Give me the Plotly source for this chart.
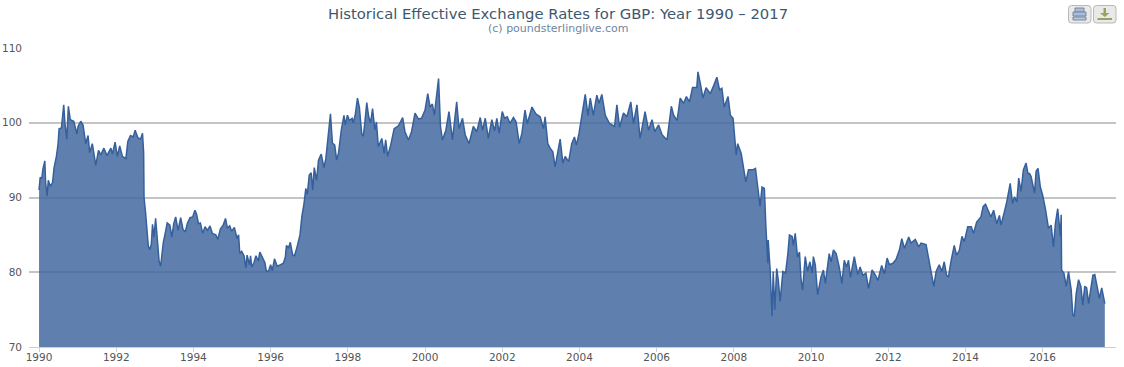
import plotly.graph_objects as go

years = [
1990.00,1990.03,1990.07,1990.10,1990.15,1990.17,1990.21,1990.24,1990.29,1990.35,1990.39,1990.45,1990.49,1990.52,1990.58,1990.64,1990.67,1990.72,1990.76,1990.81,1990.90,1990.98,
1991.01,1991.08,1991.14,1991.21,1991.27,1991.31,1991.38,1991.47,1991.54,1991.60,1991.68,1991.76,1991.86,1991.90,1991.97,
1992.03,1992.09,1992.16,1992.25,1992.30,1992.37,1992.44,1992.49,1992.56,1992.63,1992.68,1992.71,1992.72,1992.76,1992.79,1992.83,1992.87,1992.91,1992.94,1992.98,
1993.02,1993.06,1993.11,1993.15,1993.18,1993.22,1993.28,1993.32,1993.39,1993.44,1993.49,1993.54,1993.60,1993.67,1993.73,1993.79,1993.84,1993.91,1993.98,
1994.04,1994.08,1994.13,1994.18,1994.24,1994.30,1994.36,1994.43,1994.49,1994.58,1994.63,1994.70,1994.77,1994.83,1994.88,1994.94,1994.99,
1995.06,1995.13,1995.17,1995.20,1995.25,1995.31,1995.36,1995.39,1995.45,1995.48,1995.51,1995.57,1995.62,1995.68,1995.72,1995.79,1995.85,1995.89,1995.95,
1996.00,1996.04,1996.10,1996.17,1996.26,1996.33,1996.38,1996.41,1996.46,1996.51,1996.57,1996.62,1996.69,1996.76,1996.81,1996.86,1996.91,1996.95,
1997.00,1997.05,1997.09,1997.13,1997.19,1997.24,1997.31,1997.38,1997.43,1997.48,1997.55,1997.60,1997.66,1997.71,1997.76,1997.83,1997.90,1997.93,1997.99,
1998.04,1998.11,1998.14,1998.19,1998.25,1998.30,1998.36,1998.40,1998.44,1998.49,1998.54,1998.59,1998.64,1998.70,1998.74,1998.79,1998.88,1998.94,1998.98,
1999.03,1999.11,1999.20,1999.31,1999.42,1999.48,1999.57,1999.65,1999.74,1999.83,1999.91,
2000.00,2000.07,2000.13,2000.19,2000.24,2000.29,2000.35,2000.40,2000.45,2000.54,2000.62,2000.71,2000.82,2000.88,2000.97,
2001.04,2001.14,2001.25,2001.34,2001.43,2001.49,2001.56,2001.64,2001.73,2001.80,2001.86,2001.92,
2002.00,2002.06,2002.13,2002.20,2002.29,2002.36,2002.44,2002.51,2002.59,2002.65,2002.77,2002.87,2002.98,
2003.07,2003.11,2003.18,2003.24,2003.31,2003.37,2003.41,2003.50,2003.57,2003.63,2003.72,2003.80,2003.87,2003.92,2003.99,
2004.06,2004.15,2004.22,2004.28,2004.36,2004.45,2004.51,2004.58,2004.67,2004.78,2004.91,2004.97,
2005.04,2005.14,2005.23,2005.33,2005.40,2005.49,2005.57,2005.70,2005.79,2005.88,2005.95,
2006.05,2006.14,2006.27,2006.38,2006.44,2006.53,2006.61,2006.70,2006.77,2006.85,2006.93,
2007.04,2007.07,2007.13,2007.20,2007.28,2007.39,2007.48,2007.56,2007.63,2007.69,2007.75,2007.85,2007.91,2007.98,
2008.06,2008.10,2008.19,2008.25,2008.31,2008.38,2008.49,2008.56,2008.62,2008.68,2008.73,2008.79,2008.83,2008.88,2008.89,2008.94,2008.99,
2009.02,2009.06,2009.11,2009.15,2009.20,2009.27,2009.34,2009.40,2009.44,2009.51,2009.54,2009.59,2009.65,2009.70,2009.74,2009.78,2009.85,2009.91,2009.97,
2010.03,2010.06,2010.11,2010.17,2010.26,2010.32,2010.37,2010.43,2010.47,2010.52,2010.58,2010.65,2010.73,2010.80,2010.86,2010.92,2010.97,
2011.02,2011.12,2011.21,2011.27,2011.34,2011.42,2011.49,2011.58,2011.67,2011.73,2011.83,2011.90,2011.97,
2012.03,2012.12,2012.20,2012.29,2012.35,2012.42,2012.53,2012.59,2012.70,2012.79,2012.85,2012.98,
2013.07,2013.13,2013.18,2013.24,2013.32,2013.39,2013.45,2013.51,2013.56,2013.63,2013.71,2013.77,2013.84,2013.91,2013.97,
2014.06,2014.15,2014.21,2014.29,2014.40,2014.46,2014.52,2014.59,2014.66,2014.73,2014.81,2014.88,2014.92,
2015.01,2015.07,2015.16,2015.22,2015.27,2015.33,2015.38,2015.44,2015.50,2015.57,2015.62,2015.66,2015.70,2015.79,2015.83,2015.88,2015.94,
2016.00,2016.07,2016.15,2016.22,2016.28,2016.33,2016.39,2016.46,2016.48,2016.49,2016.55,2016.61,2016.67,2016.74,2016.78,2016.82,2016.87,2016.93,2016.99,
2017.04,2017.09,2017.14,2017.19,2017.30,2017.35,2017.41,2017.47,2017.53,2017.61]

rates = [
91,92.7,92.5,93.8,94.9,92,90.2,92.3,91.5,92,94,95.5,97,99.2,99.3,102.4,100,97.8,102.2,100.4,100.2,98.5,
99.5,100.2,99.7,97.2,98.3,96,97.2,94.3,96.3,95.7,96.6,95.6,96.6,95.8,97.4,
95.5,96.9,95.5,95.2,97.5,98.3,98.1,99,98,97.8,98.6,96,90,88,86,83.5,83,83.8,86.4,84.7,
87.2,84,81.5,80.8,82,84,85.5,86.6,86.3,84.7,86.5,87.4,85.6,87.3,85.7,85.4,86.5,87.3,87.4,
88.3,87.8,86.5,86.6,85.2,86.1,85.6,86.2,85.2,85,84.4,85.8,86.3,87.2,85.9,86.2,85.5,
86,84.5,85,82.5,82.8,82.2,80.6,82.3,81,82.2,80.7,81.3,82.2,81.5,82.7,82,81.3,80.1,80.2,
81,80.2,81.8,80.8,81,81.2,82,83.6,83.2,84,82.3,82.2,83.5,85,87.5,89,91.2,90.4,
93,93.3,91,94,92.3,95,95.8,94,95.2,97.5,101.2,97.3,97,95,96,99,101,99.7,101,
100.3,100.6,100,101,103.3,102,98.5,98.2,100,102.7,100.8,100,101.9,99,100.1,96.8,97.9,95.9,97.7,
95.5,97,99.2,99.6,100.7,98.8,97.7,98.8,101.3,100.5,100.6,
101.7,103.9,102.1,102.5,101,103.5,105.9,99.5,97.7,99,101.5,97.7,102.8,99.2,100.6,
98.4,97.2,99.5,98.8,100.7,99,100.6,97.9,100.4,98.9,100.6,98.6,
101.5,100.6,100.8,99.9,100.7,100.1,97.2,98.6,101.7,99.9,102.1,101.2,100.8,
99.2,100.8,97.2,96.6,96.1,94.1,95.4,97.8,94.6,95.5,94.8,97.2,98.1,97,98.6,
100.8,103.8,101,103.3,101,103.7,102.6,103.8,101,99.9,99.5,102.4,
99.4,101.3,100.8,102.8,99.9,102.4,97.9,101.5,99,100.4,98.8,
99.7,98.4,97.7,102.2,101,100.3,103.3,102.6,103.5,102.8,104.7,
104.7,106.8,105.3,103.3,104.7,103.9,105,106.1,104.4,104.6,102.1,103.5,101,100.6,
95.7,97.2,95.9,94.1,92.1,93.7,93.7,93.9,91.2,88.8,91.4,91.2,86.1,81.2,84.3,80.3,74.1,
80.1,75,80.5,79,76.1,80.1,79.9,82.5,85,84.8,83.6,85.2,82,82.7,79,77.6,82.1,80.1,81.4,
79.9,82.1,81,77,79.4,80.3,78.5,81,82.5,81.4,83,82.5,80.7,78.5,81.6,80.7,81.6,
79.3,82.1,79.7,80.7,79.6,79.9,77.8,80.3,79.6,78.9,80.9,79.8,81.9,
81,81.2,81.7,83,84.5,83.2,84.7,83.9,84.4,83.4,83.9,83.7,
81.2,79.4,78.1,80.1,81,80.1,81.4,79.6,79.4,81.6,83.6,82.3,82.9,84.8,84.1,
86.1,86.1,85.2,86.7,87.4,88.8,89.1,88.3,87.4,88.3,86.5,87.6,86.3,
88.1,89.4,91.9,89.2,90.1,89.4,92.6,90.8,93.7,94.6,93.2,93.2,92.8,90.6,93.5,93.9,91.4,
90.3,88.5,85.9,86.3,83.4,86.5,88.5,84.8,87.7,80.3,79.9,78.1,80.1,77.6,74.3,74.1,77.2,79,78.1,
75.6,78.1,77.9,75.8,79.6,79.7,78.1,76.5,77.9,75.8]

y_ticks = [70, 80, 90, 100, 110]
x_ticks = list(range(1990, 2018, 2))

TITLE = "Historical Effective Exchange Rates for GBP: Year 1990 – 2017"
SUBTITLE = "(c) poundsterlinglive.com"
FONT = "DejaVu Sans"
W, H, L, R, T, B = 1124, 367, 29, 8, 48, 20


def px(x):
    return (x - L) / (W - L - R)


def py(y):
    return 1 - (y - T) / (H - T - B)


def rect(x0, y0, x1, y1, fill, line="rgba(0,0,0,0)", lw=0):
    return dict(type="rect", xref="paper", yref="paper", x0=px(x0), x1=px(x1), y0=py(y0), y1=py(y1),
                fillcolor=fill, line=dict(color=line, width=lw), layer="above")


def rounded(x0, y0, x1, y1, r=3):
    X0, X1, Y0, Y1 = px(x0), px(x1), py(y0), py(y1)
    dx, dy = r / (W - L - R), r / (H - T - B)
    path = (f"M {X0+dx} {Y0} L {X1-dx} {Y0} Q {X1} {Y0} {X1} {Y0-dy} L {X1} {Y1+dy} Q {X1} {Y1} {X1-dx} {Y1} "
            f"L {X0+dx} {Y1} Q {X0} {Y1} {X0} {Y1+dy} L {X0} {Y0-dy} Q {X0} {Y0} {X0+dx} {Y0} Z")
    return dict(type="path", xref="paper", yref="paper", path=path, fillcolor="#e9e9e9",
                line=dict(color="#b8b8b8", width=1), layer="above")


def triangle(x0, x1, xm, y0, y1, fill):
    path = f"M {px(x0)} {py(y0)} L {px(x1)} {py(y0)} L {px(xm)} {py(y1)} Z"
    return dict(type="path", xref="paper", yref="paper", path=path, fillcolor=fill,
                line=dict(color=fill, width=0), layer="above")


BLUE, GREEN = "#a9bedc", "#94a562"
shapes = [
    rounded(1068.5, 5.5, 1091, 23),
    rect(1075, 8, 1084, 12, BLUE, "#76869c", 1),
    rect(1073, 12, 1086, 16, BLUE, "#76869c", 1),
    rect(1073, 17, 1086, 20, "#b5c8e2", "#76869c", 1),
    rounded(1093.5, 5.5, 1116, 23),
    rect(1103.5, 8, 1106, 13, GREEN),
    triangle(1100, 1109.5, 1104.8, 13, 17, GREEN),
    rect(1097.5, 18, 1112, 20, GREEN),
]

fig = go.Figure(go.Scatter(
    x=years, y=rates, mode="lines",
    line=dict(color="#35609c", width=1.5),
    fill="tozeroy", fillcolor="rgba(67,106,160,0.85)",
    hoverinfo="x+y",
))

fig.update_layout(
    width=W, height=H,
    autosize=False,
    margin=dict(l=L, r=R, t=T, b=B, autoexpand=False),
    paper_bgcolor="white", plot_bgcolor="white",
    showlegend=False,
    font=dict(family=FONT, size=11, color="#555555"),
    xaxis=dict(range=[1989.74, 2017.9], tickvals=x_ticks, ticktext=[str(t) for t in x_ticks],
               automargin=False,
               showgrid=False, zeroline=False, showline=True, linecolor="#c0d0e0", linewidth=1,
               ticks="outside", ticklen=4, tickcolor="#c0d0e0", ticklabelstandoff=-4,
               tickfont=dict(size=10.5, color="#555555")),
    yaxis=dict(range=[70, 110], tickvals=y_ticks, ticktext=[str(t) for t in y_ticks],
               automargin=False,
               showgrid=True, gridcolor="#c4c4c4", gridwidth=1.5, zeroline=False, showline=False,
               ticks="", ticklabelstandoff=6, tickfont=dict(size=10.5, color="#555555")),
    shapes=shapes,
    annotations=[
        dict(text=TITLE, xref="paper", yref="paper", x=px(558), y=1, yshift=45, xanchor="center",
             yanchor="top", showarrow=False, font=dict(family=FONT, size=14.8, color="#3e576f")),
        dict(text=SUBTITLE, xref="paper", yref="paper", x=px(558), y=1, yshift=28, xanchor="center",
             yanchor="top", showarrow=False, font=dict(family=FONT, size=11, color="#6d869f")),
    ],
)

fig.write_html("out.html", config={"displayModeBar": False},
               post_script="document.body.style.margin='0';document.body.style.overflow='hidden';")
